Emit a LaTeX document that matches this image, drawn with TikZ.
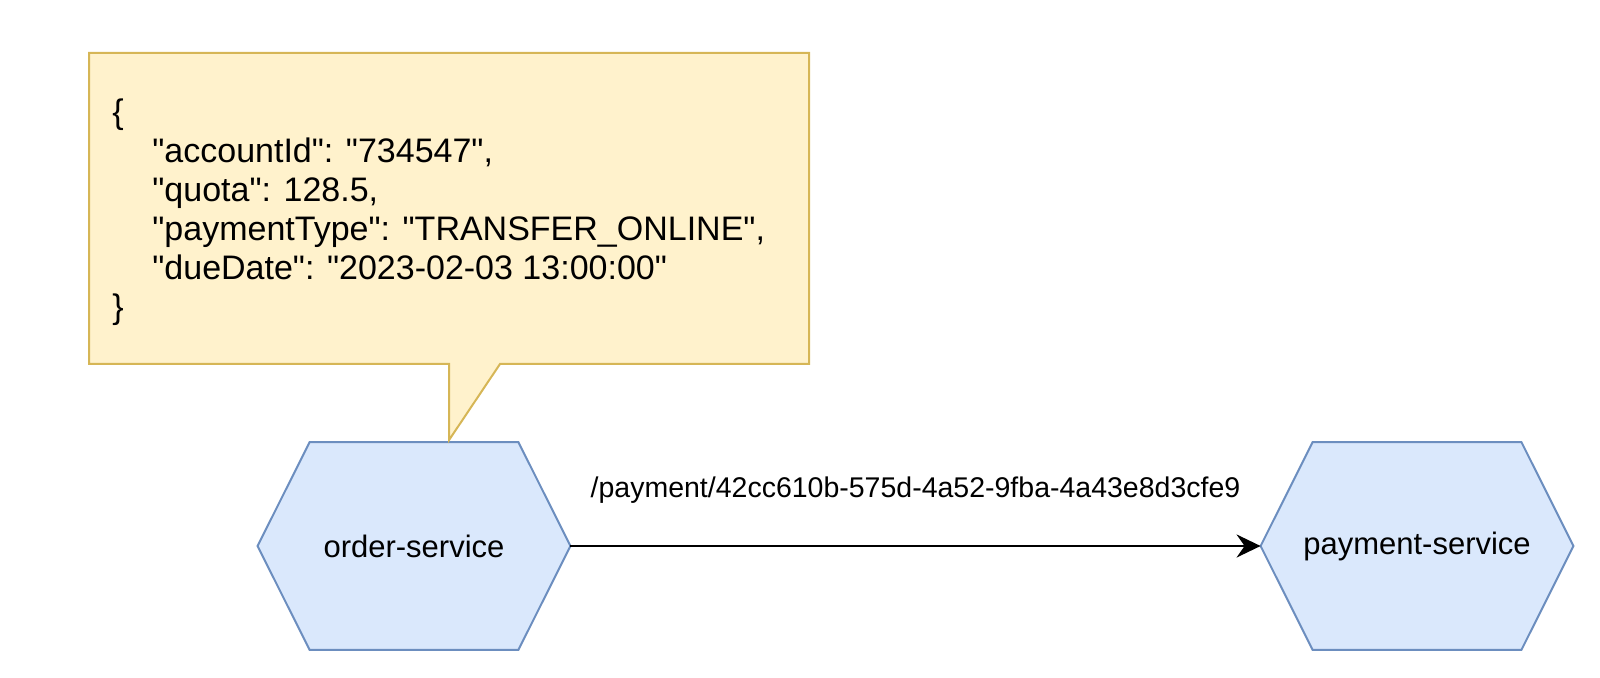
\documentclass[tikz,border=0pt]{standalone}
\usepackage{fontspec}
\setmainfont{Liberation Sans}[Ligatures=TeXOff]
\usetikzlibrary{arrows.meta,backgrounds}

\definecolor{notefill}{HTML}{FFF2CC}
\definecolor{notedraw}{HTML}{D6B656}
\definecolor{svcfill}{HTML}{DAE8FC}
\definecolor{svcdraw}{HTML}{6C8EBF}

\tikzset{
  service/.style={minimum width=156pt, minimum height=103.5pt, inner sep=0pt,
    font=\fontsize{15.5pt}{18pt}\selectfont},
  hexline/.style={draw=svcdraw, fill=svcfill, line width=1pt},
  calloutbox/.style={draw=notedraw, fill=notefill, line width=1pt},
  jsontext/.style={align=left, inner sep=0pt, font=\fontsize{17pt}{19.5pt}\selectfont},
  flow/.style={line width=1.2pt, -{Stealth[length=12pt, width=11.5pt, inset=4pt]}},
  pathlabel/.style={midway, yshift=28pt, font=\fontsize{14.25pt}{16pt}\selectfont}
}

\begin{document}
\begin{tikzpicture}[x=0.5pt, y=-0.5pt]
  \useasboundingbox (0,0) rectangle (1600,678);

  % services
  \node[service] (order)   at (414,546)  {order-service};
  \node[service] (payment) at (1417,546) {payment-service};

  \begin{scope}[on background layer]
    \foreach \s in {order,payment}
      \draw[hexline] (\s.west) -- ([xshift=26pt]\s.north west)
        -- ([xshift=-26pt]\s.north east) -- (\s.east)
        -- ([xshift=-26pt]\s.south east) -- ([xshift=26pt]\s.south west) -- cycle;
  \end{scope}

  % request body
  \coordinate (tip) at ([xshift=17.5pt, yshift=1pt]order.north);
  \draw[calloutbox] (89,53) -- (809,53) -- (809,364) -- (500,364)
    -- (tip) -- (449,364) -- (89,364) -- cycle;
  \node[jsontext, anchor=base west] (payload) at (112,319) {%
    \{\\
    \hspace*{20pt}"accountId": "734547",\\
    \hspace*{20pt}"quota": 128.5,\\
    \hspace*{20pt}"paymentType": "TRANSFER\_ONLINE",\\
    \hspace*{20pt}"dueDate": "2023-02-03 13:00:00"\\
    \}};

  % call
  \draw[flow] (order.east) -- node[pathlabel] (route)
    {/payment/42cc610b-575d-4a52-9fba-4a43e8d3cfe9} (payment.west);
\end{tikzpicture}
\end{document}
